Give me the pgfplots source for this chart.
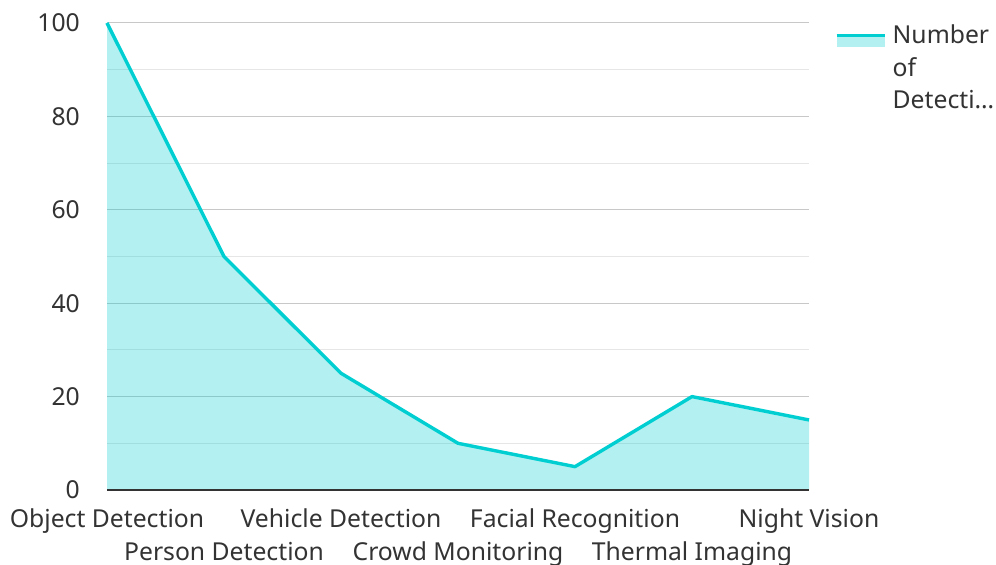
\documentclass[border=0pt]{standalone}
\usepackage{pgfplots}
\pgfplotsset{compat=1.18}
\usepackage{fontspec}
\setmainfont{Noto Sans}
\definecolor{linec}{HTML}{00CED1}
\definecolor{textc}{HTML}{333333}
\definecolor{gridmaj}{HTML}{C8C8C8}
\definecolor{gridmin}{HTML}{E6E6E6}
\definecolor{axisc}{HTML}{333333}
\begin{document}
\begin{tikzpicture}
\begin{axis}[
  scale only axis, width=702bp, height=467bp,
  xmin=0, xmax=6, ymin=0, ymax=100,
  xtick={0,2,4,6},
  xticklabels={Object Detection, Vehicle Detection, Facial Recognition, Night Vision},
  extra x ticks={1,3,5},
  extra x tick labels={Person Detection, Crowd Monitoring, Thermal Imaging},
  extra x tick style={xticklabel style={yshift=-33bp}},
  ytick={0,20,...,100},
  minor ytick={10,30,50,70,90},
  ymajorgrids, yminorgrids,
  major grid style={color=gridmaj, line width=1bp},
  minor grid style={color=gridmin, line width=1bp},
  axis line style={draw=none},
  major tick length=0pt, minor tick length=0pt,
  tick label style={font=\fontsize{24.8}{32}\selectfont, text=textc},
  /pgf/number format/assume math mode=true,
  yticklabel style={anchor=east, inner sep=0pt, xshift=-27bp},
  xticklabel style={anchor=base, inner sep=0pt, yshift=-37bp},
  legend style={at={(rel axis cs:1,1)}, anchor=north west, xshift=26bp, draw=none, fill=none,
    inner sep=0pt, font=\fontsize{24.8}{32.5}\selectfont, text=textc,
    cells={anchor=north west, align=left}},
  legend cell align=left,
  clip=false,
]
\addplot[draw=none, fill=linec, fill opacity=0.3, forget plot] coordinates {
  (0,100) (1,50) (2,25) (3,10) (4,5) (5,20) (6,15)
} \closedcycle;
\addplot[color=linec, line width=3.4bp, line join=round,
  legend image code/.code={
    \fill[draw=none, fill=linec, fill opacity=0.3] (0bp,21bp) rectangle (48bp,32bp);
    \draw[draw=linec, line width=3bp] (0bp,32.5bp) -- (48bp,32.5bp);
    \path[draw=none] (0bp,0bp) -- (54bp,0bp);
  }] coordinates {
  (0,100) (1,50) (2,25) (3,10) (4,5) (5,20) (6,15)
};
\addlegendentry{Number\\of\\Detecti…}
\draw[axisc, line width=2bp] (rel axis cs:0,0) -- (rel axis cs:1,0);
\coordinate (bl) at (rel axis cs:0,0);
\coordinate (tr) at (rel axis cs:1,1);
\end{axis}
\pgfresetboundingbox
\useasboundingbox ([shift={(-107bp,-74bp)}]bl) rectangle ([shift={(187bp,23bp)}]tr);
\end{tikzpicture}
\end{document}
